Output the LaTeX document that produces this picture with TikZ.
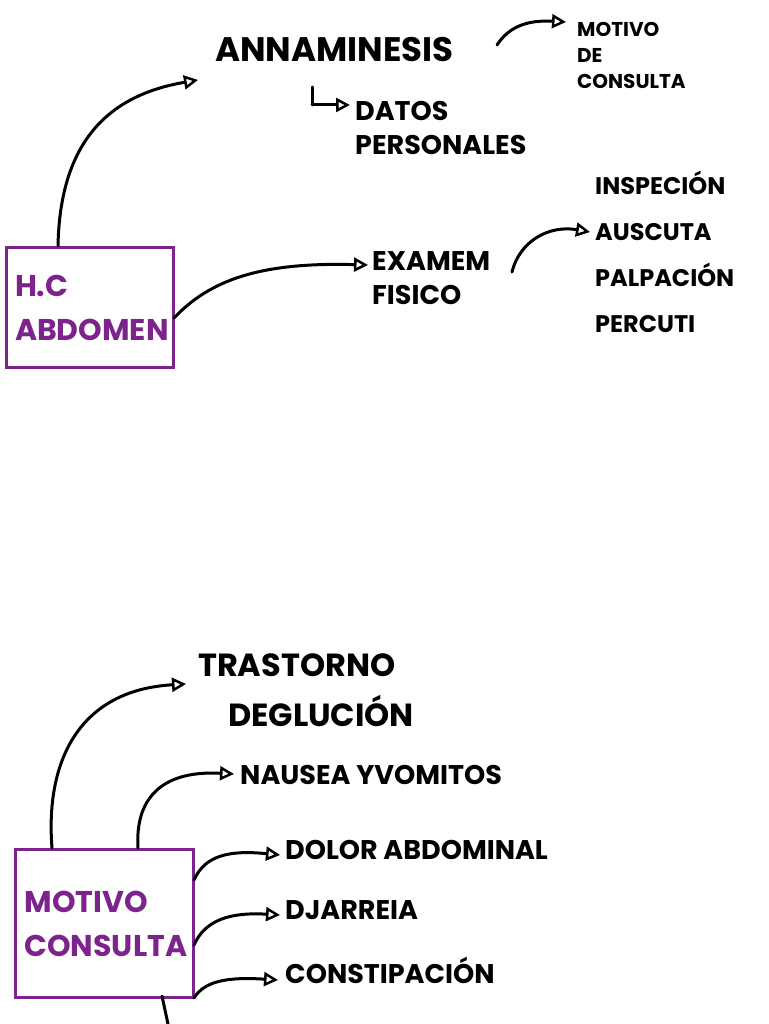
\documentclass[tikz,border=0pt]{standalone}
\usepackage{fontspec}
\setmainfont{Poppins}
\usetikzlibrary{arrows.meta}
\definecolor{purp}{RGB}{125,35,140}
\begin{document}
\begin{tikzpicture}[x=1pt,y=-1pt,
  conn/.style={line width=3pt,line cap=round,-{Triangle[open,length=14pt,width=14pt,line width=2.5pt]}},
  plain/.style={line width=3pt,line cap=round},
  box/.style={draw=purp,line width=3pt,text=purp,align=left,font=\bfseries\fontsize{30}{34}\selectfont,inner sep=6pt},
  big/.style={font=\bfseries\fontsize{34}{40}\selectfont,align=left,anchor=west,inner sep=0pt},
  mid/.style={font=\bfseries\fontsize{27}{34}\selectfont,align=left,anchor=west,inner sep=0pt},
  sml/.style={font=\bfseries\fontsize{20}{26}\selectfont,align=left,anchor=west,inner sep=0pt}]
\useasboundingbox[fill=white] (0,0) rectangle (768,1024);
% top
\node[box,minimum width=167pt,minimum height=120pt,anchor=north west,text width=150pt] (hc) at (5,246) {H.C\\[10pt]ABDOMEN};
\node[big] (ana) at (215,50) {ANNAMINESIS};
\node[sml] (mot) at (577,55) {MOTIVO\\DE\\CONSULTA};
\node[mid] (dat) at (355,128) {DATOS\\PERSONALES};
\node[mid] (ex) at (372,278) {EXAMEM\\FISICO};
\node[font=\bfseries\fontsize{24}{46}\selectfont,align=left,anchor=west,inner sep=0pt] (insp) at (595,252) {INSPECIÓN\\AUSCUTA\\PALPACIÓN\\PERCUTI};
\draw[conn] (58,246) .. controls (60,140) and (110,95) .. (198,80);
\draw[conn] (497,45) .. controls (510,25) and (530,20) .. (566,22);
\coordinate (lb) at (312,87);
\draw[plain] (lb) -- (312,105);
\draw[conn] (312,105) -- (350,105);
\draw[conn] (174,318) .. controls (210,280) and (260,262) .. (368,265);
\draw[conn] (512,272) .. controls (520,240) and (550,225) .. (590,232);
% bottom
\node[box,minimum width=178pt,minimum height=148pt,anchor=north west,text width=160pt] (mc) at (14,848) {MOTIVO\\[10pt]CONSULTA};
\node[font=\bfseries\fontsize{32}{50}\selectfont,align=left,anchor=west,inner sep=0pt] (tr) at (198,690) {TRASTORNO\\\hspace*{30pt}DEGLUCIÓN};
\node[mid] (nv) at (240,775) {NAUSEA YVOMITOS};
\node[mid] (da) at (285,850) {DOLOR ABDOMINAL};
\node[mid] (di) at (285,910) {DJARREIA};
\node[mid] (co) at (285,970) {CONSTIPACIÓN};
\draw[conn] (52,848) .. controls (45,760) and (80,690) .. (186,684);
\draw[conn] (138,848) .. controls (135,800) and (160,770) .. (234,774);
\draw[conn] (194,880) .. controls (205,855) and (230,850) .. (280,855);
\draw[conn] (194,945) .. controls (205,920) and (230,912) .. (280,915);
\draw[conn] (194,998) .. controls (205,980) and (230,977) .. (278,980);
\draw[plain] (162,996) -- (168,1024);
\end{tikzpicture}
\end{document}
